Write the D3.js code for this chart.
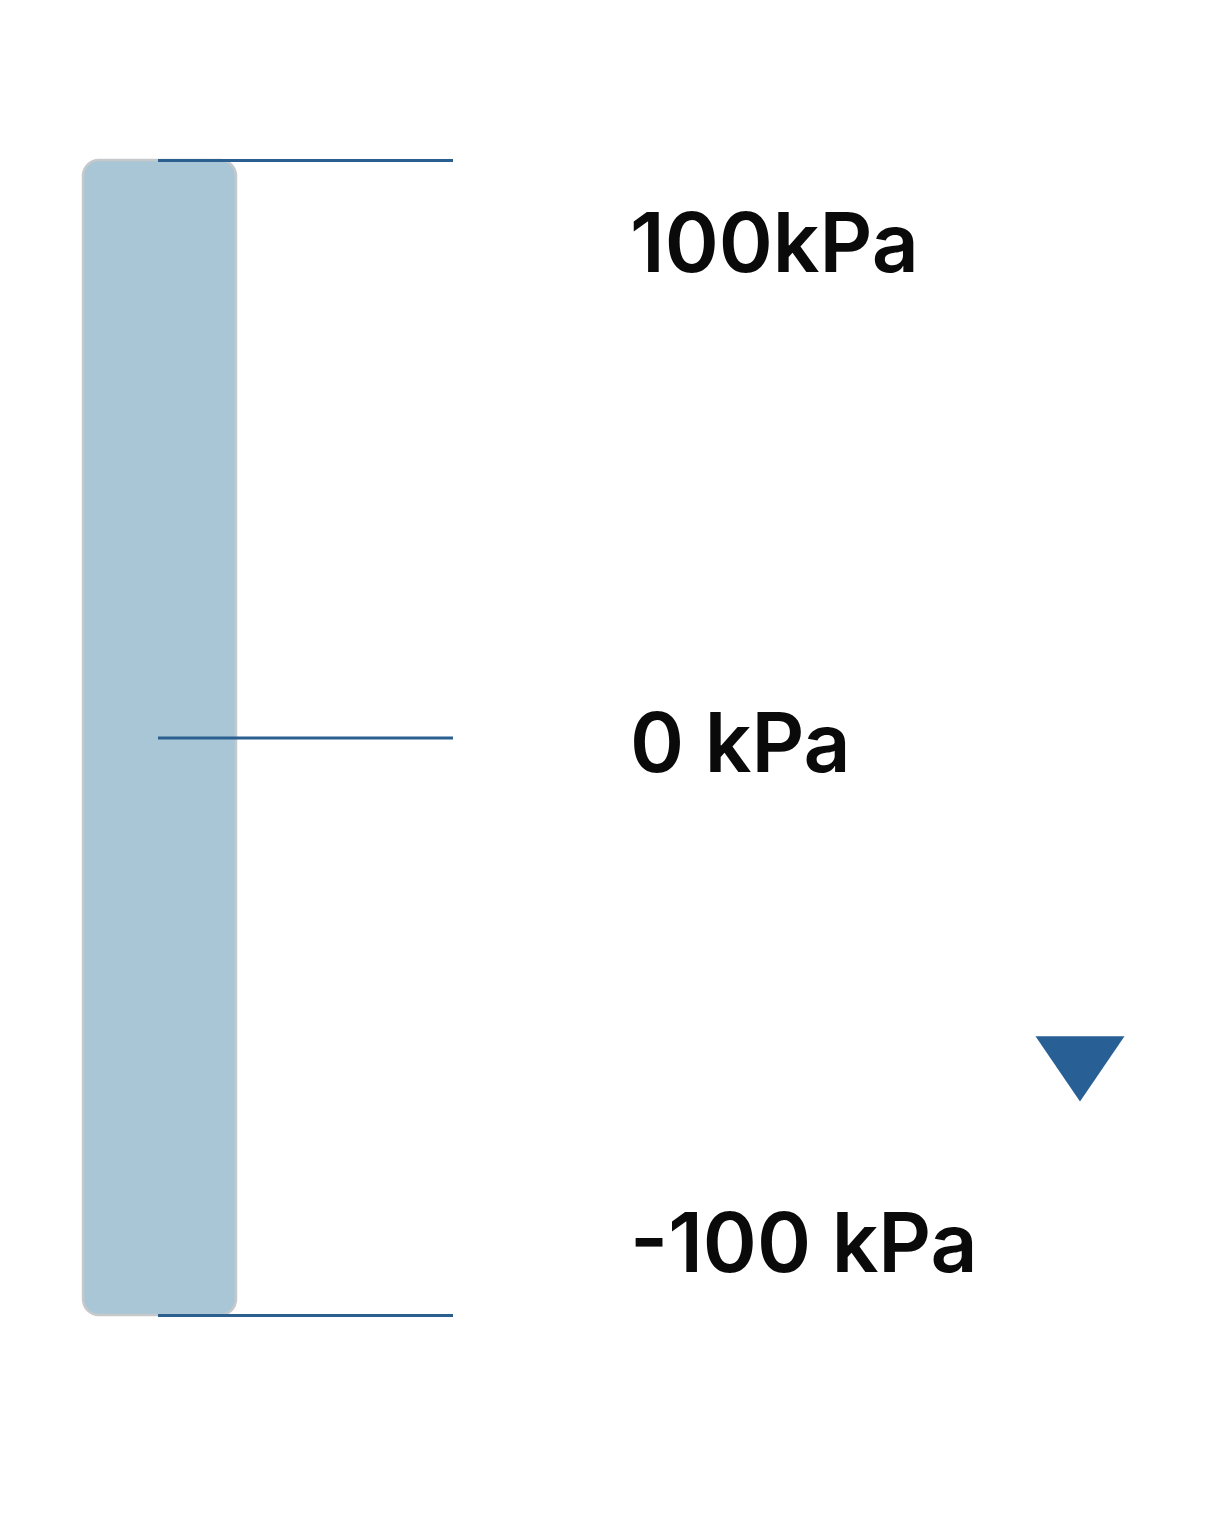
<!DOCTYPE html>
<html>
<head>
<meta charset="utf-8">
<script src="https://cdn.jsdelivr.net/npm/d3@7"></script>
<style>
    html, body { margin: 0; padding: 0; background: #ffffff; }
    svg { display: block; }
</style>
</head>
<body>
<svg id="chart" width="1229" height="1536"></svg>
<script>
    "use strict";

    // gauge range, ticks and current reading
    var gaugeDomain = [100, -100];
    var tickValues = [100, 0, -100];
    var tickLabels = ["100kPa", "0 kPa", "-100 kPa"];
    var markerValue = [-55.5];

    var svg = d3.select("#chart");

    var y = d3.scaleLinear().domain(gaugeDomain).range([160, 1315]);
    // labels sit on their own, tighter scale
    var labelY = d3.scaleLinear().domain(gaugeDomain).range([272, 1272]);

    // the tube
    svg.append("rect")
        .attr("x", 83)
        .attr("y", y(gaugeDomain[0]))
        .attr("width", 153)
        .attr("height", y(gaugeDomain[1]) - y(gaugeDomain[0]))
        .attr("rx", 16)
        .attr("fill", "#a9c6d6")
        .attr("stroke", "#c6c9cc")
        .attr("stroke-width", 2.5);

    // tick lines drawn through an axis
    var axis = d3.axisRight(y)
        .tickValues(tickValues)
        .tickSize(295)
        .tickFormat("");

    var ax = svg.append("g")
        .attr("transform", "translate(158,0)")
        .call(axis);
    ax.select(".domain").remove();
    ax.selectAll(".tick line")
        .attr("stroke", "#2b5f8f")
        .attr("stroke-width", 3);

    // labels
    svg.append("g")
        .selectAll("text")
        .data(tickValues)
        .enter()
        .append("text")
        .attr("x", 630)
        .attr("y", function (d) { return labelY(d); })
        .attr("font-family", "Inter, 'Liberation Sans', Arial, sans-serif")
        .attr("font-weight", 600)
        .attr("font-size", 82)
        .attr("fill", "#0a0a0a")
        .text(function (d, i) { return tickLabels[i]; });

    // reading marker (downward triangle, a bit flattened)
    var tri = d3.symbol().type(d3.symbolTriangle).size(3430);

    svg.append("g")
        .selectAll("path")
        .data(markerValue)
        .enter()
        .append("path")
        .attr("d", tri())
        .attr("transform", function (d) {
            return "translate(1080," + y(d) + ") scale(1,-0.845)";
        })
        .attr("fill", "#285f95");
</script>
</body>
</html>
